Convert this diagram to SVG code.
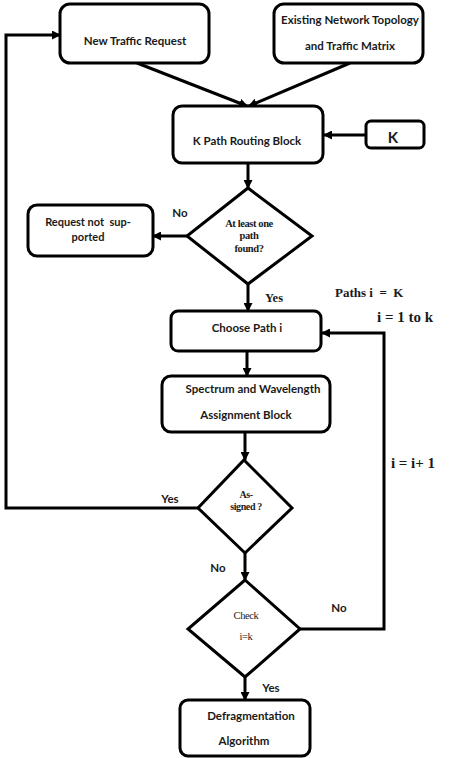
<svg xmlns="http://www.w3.org/2000/svg" width="474" height="758" viewBox="0 0 474 758">
<style>
.box{fill:#fff;stroke:#000;stroke-width:3}
.con{fill:none;stroke:#000;stroke-width:3}
.s{font-family:Lato,"Liberation Sans",sans-serif;font-weight:bold;font-size:11.5px;fill:#1a1a1a;text-anchor:middle;white-space:pre}
.t{font-family:"Liberation Serif","Times New Roman",serif;font-weight:bold;fill:#1a1a1a;text-anchor:middle;white-space:pre}
</style>
<defs>
<marker id="ah" markerUnits="userSpaceOnUse" markerWidth="9" markerHeight="9" refX="8" refY="4.5" orient="auto">
<path d="M0,0 L9,4.5 L0,9 z" fill="#000"/>
</marker>
</defs>
<rect width="474" height="758" fill="#fff"/>
<g id="connectors">
<line class="con" x1="137" y1="63" x2="247" y2="106" marker-end="url(#ah)"/>
<line class="con" x1="350" y1="63" x2="249" y2="106" marker-end="url(#ah)"/>
<line class="con" x1="366" y1="135" x2="324" y2="135" marker-end="url(#ah)"/>
<line class="con" x1="248" y1="163" x2="248" y2="188" marker-end="url(#ah)"/>
<line class="con" x1="187" y1="236" x2="153" y2="236" marker-end="url(#ah)"/>
<line class="con" x1="248" y1="284" x2="248" y2="311" marker-end="url(#ah)"/>
<line class="con" x1="247" y1="351" x2="247" y2="376" marker-end="url(#ah)"/>
<line class="con" x1="245" y1="432" x2="245" y2="460" marker-end="url(#ah)"/>
<polyline class="con" points="198,508 6,508 6,35 60,35" marker-end="url(#ah)"/>
<line class="con" x1="245" y1="553" x2="245" y2="580" marker-end="url(#ah)"/>
<polyline class="con" points="300,629 384,629 384,333 322,333" marker-end="url(#ah)"/>
<line class="con" x1="245" y1="677" x2="245" y2="700" marker-end="url(#ah)"/>
</g>
<g id="new-traffic-request">
<rect class="box" x="60" y="4" width="149" height="59" rx="10"/>
<text class="s" x="135" y="45">New Traffic Request</text>
</g>
<g id="existing-topology">
<rect class="box" x="274" y="4" width="149" height="59" rx="10"/>
<text class="s" x="350" y="24">Existing Network Topology</text>
<text class="s" x="350" y="50">and Traffic Matrix</text>
</g>
<g id="k-path-routing">
<rect class="box" x="173" y="106" width="150" height="57" rx="9"/>
<text class="s" x="247" y="145">K Path Routing Block</text>
</g>
<g id="k-box">
<rect class="box" x="366" y="121" width="58" height="27" rx="5"/>
<text class="s" x="393" y="143" style="font-size:15px">K</text>
</g>
<g id="path-found">
<polygon class="box" points="248,188 312,236 248,284 187,236"/>
<text class="t" x="249" y="227" style="font-size:10.5px;letter-spacing:-0.4px">At least one</text>
<text class="t" x="249" y="239" style="font-size:10.5px;letter-spacing:-0.4px">path</text>
<text class="t" x="249" y="252" style="font-size:10.5px;letter-spacing:-0.4px">found?</text>
</g>
<g id="not-supported">
<rect class="box" x="28" y="205" width="125" height="51" rx="9"/>
<text class="s" x="88" y="226" style="font-size:11px" xml:space="preserve">Request not  sup-</text>
<text class="s" x="88" y="241" style="font-size:11px">ported</text>
</g>
<g id="choose-path">
<rect class="box" x="171" y="311" width="150" height="40" rx="7"/>
<text class="s" x="247" y="332">Choose Path i</text>
</g>
<g id="spectrum">
<rect class="box" x="162" y="376" width="168" height="56" rx="9"/>
<text class="s" x="253" y="393">Spectrum and Wavelength</text>
<text class="s" x="246" y="419">Assignment Block</text>
</g>
<g id="assigned">
<polygon class="box" points="244,460 292,508 245,553 198,508"/>
<text class="t" x="246" y="498" style="font-size:10px;letter-spacing:-0.4px">As-</text>
<text class="t" x="246" y="510" style="font-size:10px;letter-spacing:-0.4px">signed ?</text>
</g>
<g id="check">
<polygon class="box" points="245,580 300,629 245,677 188,629"/>
<text class="t" x="246" y="619" style="font-size:10.5px;font-weight:normal;letter-spacing:-0.4px">Check</text>
<text class="t" x="246" y="640" style="font-size:10.5px;font-weight:normal;letter-spacing:-0.4px">i=k</text>
</g>
<g id="defrag">
<rect class="box" x="180" y="700" width="130" height="56" rx="8"/>
<text class="s" x="251" y="720">Defragmentation</text>
<text class="s" x="244" y="745">Algorithm</text>
</g>
<g id="labels">
<text class="s" x="180" y="217">No</text>
<text class="t" x="274" y="302" style="font-size:12.5px">Yes</text>
<text class="t" x="335" y="297" style="font-size:13px;text-anchor:start" xml:space="preserve">Paths i  =  K</text>
<text class="t" x="405" y="322" style="font-size:15px">i = 1 to k</text>
<text class="t" x="413" y="468" style="font-size:15px">i = i+ 1</text>
<text class="s" x="170" y="503">Yes</text>
<text class="s" x="218" y="572">No</text>
<text class="s" x="339" y="612">No</text>
<text class="s" x="271" y="692">Yes</text>
</g>
</svg>
